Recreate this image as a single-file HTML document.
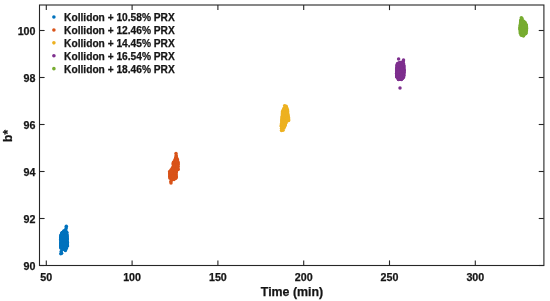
<!DOCTYPE html>
<html><head><meta charset="utf-8"><title>plot</title>
<style>
html,body{margin:0;padding:0;background:#fff;}
svg{display:block;font-family:"Liberation Sans",sans-serif;font-weight:bold}
text{fill:#151515;stroke:#151515;stroke-width:0.25}
</style></head><body>
<svg width="550" height="301" viewBox="0 0 550 301">
<rect width="550" height="301" fill="#fff" stroke="none"/>
<g stroke="#262626" stroke-width="1.1" fill="none">
<rect x="39.5" y="5.0" width="504.4" height="260.5"/>
<line x1="46.3" y1="265.5" x2="46.3" y2="260.4"/><line x1="46.3" y1="5.0" x2="46.3" y2="10.1"/><line x1="132.1" y1="265.5" x2="132.1" y2="260.4"/><line x1="132.1" y1="5.0" x2="132.1" y2="10.1"/><line x1="217.9" y1="265.5" x2="217.9" y2="260.4"/><line x1="217.9" y1="5.0" x2="217.9" y2="10.1"/><line x1="303.7" y1="265.5" x2="303.7" y2="260.4"/><line x1="303.7" y1="5.0" x2="303.7" y2="10.1"/><line x1="389.5" y1="265.5" x2="389.5" y2="260.4"/><line x1="389.5" y1="5.0" x2="389.5" y2="10.1"/><line x1="475.3" y1="265.5" x2="475.3" y2="260.4"/><line x1="475.3" y1="5.0" x2="475.3" y2="10.1"/><line x1="39.5" y1="265.5" x2="44.6" y2="265.5"/><line x1="543.85" y1="265.5" x2="538.75" y2="265.5"/><line x1="39.5" y1="218.5" x2="44.6" y2="218.5"/><line x1="543.85" y1="218.5" x2="538.75" y2="218.5"/><line x1="39.5" y1="171.5" x2="44.6" y2="171.5"/><line x1="543.85" y1="171.5" x2="538.75" y2="171.5"/><line x1="39.5" y1="124.5" x2="44.6" y2="124.5"/><line x1="543.85" y1="124.5" x2="538.75" y2="124.5"/><line x1="39.5" y1="77.5" x2="44.6" y2="77.5"/><line x1="543.85" y1="77.5" x2="538.75" y2="77.5"/><line x1="39.5" y1="30.5" x2="44.6" y2="30.5"/><line x1="543.85" y1="30.5" x2="538.75" y2="30.5"/>
</g>
<g fill="#0072BD"><circle cx="65.6" cy="229.8" r="1.75"/><circle cx="66.9" cy="232.5" r="1.75"/><circle cx="67.0" cy="234.4" r="1.75"/><circle cx="67.1" cy="236.2" r="1.75"/><circle cx="67.2" cy="238.1" r="1.75"/><circle cx="67.3" cy="240.0" r="1.75"/><circle cx="67.4" cy="242.0" r="1.75"/><circle cx="67.4" cy="244.0" r="1.75"/><circle cx="67.5" cy="246.0" r="1.75"/><circle cx="66.3" cy="248.6" r="1.75"/><circle cx="64.5" cy="249.6" r="1.75"/><circle cx="62.4" cy="249.2" r="1.75"/><circle cx="60.8" cy="248.0" r="1.75"/><circle cx="60.8" cy="246.3" r="1.75"/><circle cx="60.8" cy="244.6" r="1.75"/><circle cx="60.8" cy="242.9" r="1.75"/><circle cx="60.7" cy="241.1" r="1.75"/><circle cx="60.7" cy="239.4" r="1.75"/><circle cx="60.7" cy="237.7" r="1.75"/><circle cx="60.7" cy="236.0" r="1.75"/><circle cx="61.4" cy="234.4" r="1.75"/><circle cx="62.1" cy="232.8" r="1.75"/><circle cx="63.8" cy="231.0" r="1.75"/><circle cx="62.9" cy="232.8" r="1.75"/><circle cx="65.1" cy="231.2" r="1.75"/><circle cx="64.3" cy="237.0" r="1.75"/><circle cx="61.1" cy="239.8" r="1.75"/><circle cx="61.0" cy="238.4" r="1.75"/><circle cx="63.6" cy="246.2" r="1.75"/><circle cx="61.5" cy="234.2" r="1.75"/><circle cx="65.0" cy="248.6" r="1.75"/><circle cx="64.6" cy="237.7" r="1.75"/><circle cx="66.5" cy="235.5" r="1.75"/><circle cx="62.8" cy="246.0" r="1.75"/><circle cx="61.9" cy="241.3" r="1.75"/><circle cx="65.0" cy="237.2" r="1.75"/><circle cx="64.4" cy="231.0" r="1.75"/><circle cx="65.3" cy="238.3" r="1.75"/><circle cx="62.8" cy="241.4" r="1.75"/><circle cx="63.8" cy="235.7" r="1.75"/><circle cx="66.1" cy="243.6" r="1.75"/><circle cx="62.4" cy="241.2" r="1.75"/><circle cx="64.3" cy="247.1" r="1.75"/><circle cx="65.7" cy="235.5" r="1.75"/><circle cx="63.5" cy="244.8" r="1.75"/><circle cx="61.7" cy="239.5" r="1.75"/><circle cx="61.0" cy="243.0" r="1.75"/><circle cx="65.9" cy="241.1" r="1.75"/><circle cx="66.7" cy="236.0" r="1.75"/><circle cx="65.4" cy="241.6" r="1.75"/><circle cx="64.6" cy="238.8" r="1.75"/><circle cx="63.9" cy="243.0" r="1.75"/><circle cx="61.1" cy="243.7" r="1.75"/><circle cx="66.3" cy="235.4" r="1.75"/><circle cx="63.3" cy="243.0" r="1.75"/><circle cx="60.9" cy="238.9" r="1.75"/><circle cx="61.1" cy="245.0" r="1.75"/><circle cx="61.6" cy="234.7" r="1.75"/><circle cx="63.4" cy="247.1" r="1.75"/><circle cx="61.2" cy="238.7" r="1.75"/><circle cx="64.4" cy="247.3" r="1.75"/><circle cx="66.3" cy="246.9" r="1.75"/><circle cx="62.6" cy="238.0" r="1.75"/><circle cx="63.1" cy="247.3" r="1.75"/><circle cx="61.9" cy="234.4" r="1.75"/><circle cx="62.3" cy="239.4" r="1.75"/><circle cx="64.7" cy="235.0" r="1.75"/><circle cx="60.7" cy="238.1" r="1.75"/><circle cx="63.2" cy="241.0" r="1.75"/><circle cx="67.2" cy="243.5" r="1.75"/><circle cx="64.2" cy="242.0" r="1.75"/><circle cx="65.3" cy="230.9" r="1.75"/><circle cx="66.8" cy="245.2" r="1.75"/><circle cx="66.6" cy="245.6" r="1.75"/><circle cx="63.4" cy="237.7" r="1.75"/><circle cx="61.4" cy="242.4" r="1.75"/><circle cx="62.1" cy="233.0" r="1.75"/><circle cx="61.4" cy="237.0" r="1.75"/><circle cx="60.9" cy="247.1" r="1.75"/><circle cx="64.9" cy="232.7" r="1.75"/><circle cx="62.4" cy="236.7" r="1.75"/><circle cx="63.2" cy="232.2" r="1.75"/><circle cx="63.9" cy="239.4" r="1.75"/><circle cx="63.0" cy="235.0" r="1.75"/><circle cx="66.3" cy="233.0" r="1.75"/><circle cx="64.3" cy="232.7" r="1.75"/><circle cx="64.3" cy="249.2" r="1.75"/><circle cx="66.6" cy="243.6" r="1.75"/><circle cx="62.5" cy="237.1" r="1.75"/><circle cx="61.8" cy="245.1" r="1.75"/><circle cx="64.3" cy="245.2" r="1.75"/><circle cx="62.9" cy="234.2" r="1.75"/><circle cx="66.5" cy="245.8" r="1.75"/><circle cx="66.3" cy="244.4" r="1.75"/><circle cx="62.2" cy="240.0" r="1.75"/><circle cx="62.5" cy="243.5" r="1.75"/><circle cx="67.2" cy="238.7" r="1.75"/><circle cx="62.2" cy="234.3" r="1.75"/><circle cx="62.0" cy="233.8" r="1.75"/><circle cx="64.9" cy="247.6" r="1.75"/><circle cx="66.4" cy="239.3" r="1.75"/><circle cx="65.1" cy="245.6" r="1.75"/><circle cx="61.3" cy="242.9" r="1.75"/><circle cx="66.9" cy="245.3" r="1.75"/><circle cx="65.8" cy="239.3" r="1.75"/><circle cx="61.9" cy="245.4" r="1.75"/><circle cx="63.0" cy="245.7" r="1.75"/><circle cx="63.4" cy="248.5" r="1.75"/><circle cx="65.6" cy="233.2" r="1.75"/><circle cx="66.9" cy="245.8" r="1.75"/><circle cx="61.7" cy="246.2" r="1.75"/><circle cx="67.4" cy="242.8" r="1.75"/><circle cx="63.1" cy="240.7" r="1.75"/><circle cx="67.3" cy="242.7" r="1.75"/><circle cx="64.3" cy="248.3" r="1.75"/><circle cx="63.6" cy="247.1" r="1.75"/><circle cx="66.3" cy="234.0" r="1.75"/><circle cx="62.4" cy="235.6" r="1.75"/><circle cx="62.3" cy="241.4" r="1.75"/><circle cx="62.5" cy="238.1" r="1.75"/><circle cx="61.6" cy="247.8" r="1.75"/><circle cx="63.1" cy="238.9" r="1.75"/><circle cx="64.7" cy="247.7" r="1.75"/><circle cx="63.6" cy="248.0" r="1.75"/><circle cx="64.1" cy="240.3" r="1.75"/><circle cx="63.7" cy="233.4" r="1.75"/><circle cx="61.9" cy="239.2" r="1.75"/><circle cx="65.6" cy="240.8" r="1.75"/><circle cx="62.9" cy="240.1" r="1.75"/><circle cx="64.5" cy="245.3" r="1.75"/><circle cx="61.4" cy="240.9" r="1.75"/><circle cx="62.4" cy="235.3" r="1.75"/><circle cx="66.0" cy="239.9" r="1.75"/><circle cx="64.5" cy="244.8" r="1.75"/><circle cx="66.9" cy="238.6" r="1.75"/><circle cx="64.9" cy="239.8" r="1.75"/><circle cx="64.2" cy="243.5" r="1.75"/><circle cx="63.8" cy="240.4" r="1.75"/><circle cx="64.0" cy="248.4" r="1.75"/><circle cx="65.5" cy="247.2" r="1.75"/><circle cx="64.5" cy="248.5" r="1.75"/><circle cx="66.4" cy="232.5" r="1.75"/><circle cx="61.5" cy="238.6" r="1.75"/><circle cx="61.2" cy="243.1" r="1.75"/><circle cx="66.0" cy="247.6" r="1.75"/><circle cx="61.8" cy="244.0" r="1.75"/><circle cx="65.2" cy="232.6" r="1.75"/><circle cx="62.2" cy="248.7" r="1.75"/><circle cx="63.4" cy="239.4" r="1.75"/><circle cx="61.8" cy="238.3" r="1.75"/><circle cx="64.2" cy="236.5" r="1.75"/><circle cx="62.0" cy="236.1" r="1.75"/><circle cx="65.6" cy="230.2" r="1.75"/><circle cx="64.5" cy="238.5" r="1.75"/><circle cx="60.8" cy="236.4" r="1.75"/><circle cx="64.9" cy="239.9" r="1.75"/><circle cx="61.4" cy="235.1" r="1.75"/><circle cx="61.0" cy="245.2" r="1.75"/><circle cx="62.5" cy="232.4" r="1.75"/><circle cx="63.6" cy="247.8" r="1.75"/><circle cx="66.3" cy="234.9" r="1.75"/><circle cx="61.7" cy="248.0" r="1.75"/><circle cx="64.6" cy="243.7" r="1.75"/><circle cx="65.4" cy="238.2" r="1.75"/><circle cx="65.0" cy="245.7" r="1.75"/><circle cx="61.3" cy="246.8" r="1.75"/><circle cx="61.2" cy="246.9" r="1.75"/><circle cx="63.8" cy="236.5" r="1.75"/><circle cx="64.5" cy="248.1" r="1.75"/><circle cx="62.5" cy="232.4" r="1.75"/><circle cx="66.3" cy="226.2" r="1.75"/><circle cx="66.2" cy="228.0" r="1.75"/><circle cx="61.2" cy="251.5" r="1.75"/><circle cx="60.8" cy="253.7" r="1.75"/><circle cx="61.6" cy="253.2" r="1.75"/><circle cx="65.4" cy="250.4" r="1.75"/></g><g fill="#D95319"><circle cx="176.3" cy="157.0" r="1.75"/><circle cx="176.9" cy="158.5" r="1.75"/><circle cx="177.5" cy="160.0" r="1.75"/><circle cx="178.0" cy="163.0" r="1.75"/><circle cx="178.0" cy="164.6" r="1.75"/><circle cx="178.0" cy="166.2" r="1.75"/><circle cx="178.0" cy="167.9" r="1.75"/><circle cx="178.0" cy="169.5" r="1.75"/><circle cx="176.2" cy="171.0" r="1.75"/><circle cx="176.1" cy="172.8" r="1.75"/><circle cx="176.1" cy="174.5" r="1.75"/><circle cx="176.0" cy="176.2" r="1.75"/><circle cx="175.9" cy="178.0" r="1.75"/><circle cx="174.0" cy="179.5" r="1.75"/><circle cx="171.5" cy="180.0" r="1.75"/><circle cx="169.8" cy="178.0" r="1.75"/><circle cx="169.8" cy="176.4" r="1.75"/><circle cx="169.8" cy="174.8" r="1.75"/><circle cx="169.7" cy="173.1" r="1.75"/><circle cx="169.7" cy="171.5" r="1.75"/><circle cx="171.0" cy="170.0" r="1.75"/><circle cx="172.1" cy="168.5" r="1.75"/><circle cx="173.2" cy="167.0" r="1.75"/><circle cx="173.3" cy="164.8" r="1.75"/><circle cx="173.4" cy="162.5" r="1.75"/><circle cx="175.0" cy="160.0" r="1.75"/><circle cx="175.7" cy="158.5" r="1.75"/><circle cx="174.1" cy="162.5" r="1.75"/><circle cx="176.0" cy="163.7" r="1.75"/><circle cx="175.8" cy="169.7" r="1.75"/><circle cx="176.5" cy="166.9" r="1.75"/><circle cx="173.8" cy="176.2" r="1.75"/><circle cx="173.0" cy="168.7" r="1.75"/><circle cx="172.5" cy="176.1" r="1.75"/><circle cx="175.6" cy="171.6" r="1.75"/><circle cx="170.3" cy="174.0" r="1.75"/><circle cx="170.4" cy="176.3" r="1.75"/><circle cx="171.9" cy="179.1" r="1.75"/><circle cx="177.8" cy="169.6" r="1.75"/><circle cx="171.7" cy="179.2" r="1.75"/><circle cx="173.6" cy="168.6" r="1.75"/><circle cx="174.6" cy="169.2" r="1.75"/><circle cx="175.9" cy="172.1" r="1.75"/><circle cx="175.6" cy="177.2" r="1.75"/><circle cx="175.7" cy="171.8" r="1.75"/><circle cx="170.1" cy="176.2" r="1.75"/><circle cx="175.8" cy="175.7" r="1.75"/><circle cx="173.9" cy="176.2" r="1.75"/><circle cx="174.5" cy="177.5" r="1.75"/><circle cx="175.4" cy="172.9" r="1.75"/><circle cx="170.6" cy="176.2" r="1.75"/><circle cx="174.3" cy="171.4" r="1.75"/><circle cx="174.9" cy="172.7" r="1.75"/><circle cx="173.9" cy="169.3" r="1.75"/><circle cx="175.8" cy="162.8" r="1.75"/><circle cx="175.8" cy="161.7" r="1.75"/><circle cx="173.8" cy="165.8" r="1.75"/><circle cx="173.7" cy="172.7" r="1.75"/><circle cx="176.1" cy="171.2" r="1.75"/><circle cx="175.9" cy="164.0" r="1.75"/><circle cx="175.3" cy="172.9" r="1.75"/><circle cx="175.3" cy="163.7" r="1.75"/><circle cx="174.0" cy="167.7" r="1.75"/><circle cx="177.1" cy="161.6" r="1.75"/><circle cx="173.4" cy="163.2" r="1.75"/><circle cx="171.4" cy="178.7" r="1.75"/><circle cx="171.4" cy="170.4" r="1.75"/><circle cx="176.5" cy="168.7" r="1.75"/><circle cx="171.6" cy="177.6" r="1.75"/><circle cx="173.4" cy="163.9" r="1.75"/><circle cx="172.3" cy="176.3" r="1.75"/><circle cx="176.7" cy="159.8" r="1.75"/><circle cx="177.2" cy="163.7" r="1.75"/><circle cx="170.5" cy="176.2" r="1.75"/><circle cx="172.1" cy="178.5" r="1.75"/><circle cx="172.8" cy="179.0" r="1.75"/><circle cx="174.9" cy="178.0" r="1.75"/><circle cx="177.5" cy="169.6" r="1.75"/><circle cx="175.8" cy="167.4" r="1.75"/><circle cx="175.9" cy="171.8" r="1.75"/><circle cx="177.4" cy="159.9" r="1.75"/><circle cx="173.6" cy="164.9" r="1.75"/><circle cx="172.2" cy="174.0" r="1.75"/><circle cx="177.8" cy="163.0" r="1.75"/><circle cx="175.1" cy="163.9" r="1.75"/><circle cx="174.3" cy="166.1" r="1.75"/><circle cx="171.4" cy="177.8" r="1.75"/><circle cx="173.8" cy="162.1" r="1.75"/><circle cx="174.4" cy="177.4" r="1.75"/><circle cx="175.9" cy="166.5" r="1.75"/><circle cx="173.1" cy="169.1" r="1.75"/><circle cx="173.9" cy="171.5" r="1.75"/><circle cx="176.9" cy="162.0" r="1.75"/><circle cx="173.0" cy="167.3" r="1.75"/><circle cx="170.0" cy="173.3" r="1.75"/><circle cx="177.1" cy="167.9" r="1.75"/><circle cx="172.9" cy="178.3" r="1.75"/><circle cx="177.8" cy="162.7" r="1.75"/><circle cx="174.0" cy="172.7" r="1.75"/><circle cx="175.1" cy="174.6" r="1.75"/><circle cx="173.5" cy="169.7" r="1.75"/><circle cx="170.0" cy="175.0" r="1.75"/><circle cx="171.6" cy="178.2" r="1.75"/><circle cx="175.1" cy="164.0" r="1.75"/><circle cx="175.0" cy="173.1" r="1.75"/><circle cx="174.1" cy="170.4" r="1.75"/><circle cx="177.0" cy="167.9" r="1.75"/><circle cx="173.8" cy="172.5" r="1.75"/><circle cx="175.2" cy="178.3" r="1.75"/><circle cx="175.4" cy="161.6" r="1.75"/><circle cx="177.7" cy="164.2" r="1.75"/><circle cx="176.5" cy="162.3" r="1.75"/><circle cx="171.5" cy="174.5" r="1.75"/><circle cx="172.1" cy="178.9" r="1.75"/><circle cx="171.5" cy="179.4" r="1.75"/><circle cx="177.4" cy="164.6" r="1.75"/><circle cx="171.2" cy="178.5" r="1.75"/><circle cx="175.2" cy="165.7" r="1.75"/><circle cx="177.7" cy="161.8" r="1.75"/><circle cx="172.7" cy="175.9" r="1.75"/><circle cx="176.5" cy="166.9" r="1.75"/><circle cx="172.8" cy="178.1" r="1.75"/><circle cx="173.1" cy="175.7" r="1.75"/><circle cx="176.1" cy="157.9" r="1.75"/><circle cx="177.3" cy="162.9" r="1.75"/><circle cx="175.9" cy="177.7" r="1.75"/><circle cx="171.9" cy="173.5" r="1.75"/><circle cx="173.3" cy="168.3" r="1.75"/><circle cx="177.4" cy="161.2" r="1.75"/><circle cx="174.7" cy="164.5" r="1.75"/><circle cx="176.2" cy="158.8" r="1.75"/><circle cx="171.3" cy="174.3" r="1.75"/><circle cx="172.4" cy="179.5" r="1.75"/><circle cx="175.6" cy="167.3" r="1.75"/><circle cx="174.8" cy="172.5" r="1.75"/><circle cx="175.9" cy="176.5" r="1.75"/><circle cx="175.2" cy="159.8" r="1.75"/><circle cx="176.7" cy="163.8" r="1.75"/><circle cx="174.4" cy="165.6" r="1.75"/><circle cx="175.8" cy="161.6" r="1.75"/><circle cx="171.0" cy="177.3" r="1.75"/><circle cx="174.5" cy="164.5" r="1.75"/><circle cx="173.9" cy="162.3" r="1.75"/><circle cx="173.6" cy="175.8" r="1.75"/><circle cx="177.4" cy="165.6" r="1.75"/><circle cx="176.9" cy="167.3" r="1.75"/><circle cx="171.9" cy="174.9" r="1.75"/><circle cx="174.6" cy="171.3" r="1.75"/><circle cx="171.8" cy="170.8" r="1.75"/><circle cx="175.1" cy="161.7" r="1.75"/><circle cx="175.3" cy="161.3" r="1.75"/><circle cx="176.3" cy="169.6" r="1.75"/><circle cx="173.0" cy="169.7" r="1.75"/><circle cx="171.1" cy="173.0" r="1.75"/><circle cx="172.3" cy="178.9" r="1.75"/><circle cx="172.3" cy="170.0" r="1.75"/><circle cx="175.7" cy="161.7" r="1.75"/><circle cx="173.2" cy="175.9" r="1.75"/><circle cx="173.1" cy="177.3" r="1.75"/><circle cx="175.0" cy="177.9" r="1.75"/><circle cx="170.4" cy="171.3" r="1.75"/><circle cx="172.8" cy="168.6" r="1.75"/><circle cx="174.0" cy="178.3" r="1.75"/><circle cx="177.4" cy="165.9" r="1.75"/><circle cx="176.5" cy="160.7" r="1.75"/><circle cx="176.2" cy="162.1" r="1.75"/><circle cx="173.1" cy="176.5" r="1.75"/><circle cx="176.6" cy="161.2" r="1.75"/><circle cx="174.0" cy="165.8" r="1.75"/><circle cx="175.7" cy="177.6" r="1.75"/><circle cx="176.0" cy="153.6" r="1.75"/><circle cx="176.2" cy="155.5" r="1.75"/><circle cx="176.0" cy="157.3" r="1.75"/><circle cx="170.8" cy="181.5" r="1.75"/><circle cx="171.0" cy="183.0" r="1.75"/></g><g fill="#EDB120"><circle cx="284.0" cy="108.5" r="1.75"/><circle cx="286.5" cy="107.5" r="1.75"/><circle cx="287.5" cy="110.0" r="1.75"/><circle cx="287.6" cy="112.0" r="1.75"/><circle cx="287.8" cy="114.0" r="1.75"/><circle cx="288.2" cy="116.0" r="1.75"/><circle cx="288.6" cy="118.0" r="1.75"/><circle cx="288.6" cy="120.5" r="1.75"/><circle cx="286.0" cy="121.5" r="1.75"/><circle cx="285.6" cy="123.2" r="1.75"/><circle cx="285.3" cy="125.0" r="1.75"/><circle cx="284.6" cy="126.5" r="1.75"/><circle cx="284.0" cy="128.0" r="1.75"/><circle cx="281.5" cy="128.5" r="1.75"/><circle cx="281.4" cy="126.2" r="1.75"/><circle cx="281.4" cy="124.0" r="1.75"/><circle cx="281.7" cy="122.0" r="1.75"/><circle cx="281.9" cy="120.0" r="1.75"/><circle cx="282.2" cy="118.0" r="1.75"/><circle cx="282.3" cy="116.0" r="1.75"/><circle cx="282.3" cy="114.0" r="1.75"/><circle cx="282.4" cy="112.0" r="1.75"/><circle cx="283.2" cy="110.2" r="1.75"/><circle cx="287.4" cy="110.0" r="1.75"/><circle cx="285.7" cy="119.1" r="1.75"/><circle cx="285.9" cy="113.9" r="1.75"/><circle cx="284.4" cy="119.7" r="1.75"/><circle cx="284.5" cy="121.3" r="1.75"/><circle cx="284.6" cy="116.7" r="1.75"/><circle cx="284.9" cy="112.4" r="1.75"/><circle cx="284.7" cy="111.3" r="1.75"/><circle cx="284.8" cy="109.7" r="1.75"/><circle cx="282.3" cy="116.5" r="1.75"/><circle cx="285.1" cy="108.4" r="1.75"/><circle cx="286.0" cy="109.2" r="1.75"/><circle cx="285.1" cy="108.6" r="1.75"/><circle cx="285.0" cy="115.4" r="1.75"/><circle cx="282.8" cy="128.1" r="1.75"/><circle cx="286.8" cy="110.8" r="1.75"/><circle cx="287.3" cy="110.5" r="1.75"/><circle cx="282.9" cy="113.0" r="1.75"/><circle cx="285.0" cy="114.2" r="1.75"/><circle cx="282.6" cy="127.2" r="1.75"/><circle cx="282.6" cy="124.0" r="1.75"/><circle cx="282.2" cy="118.6" r="1.75"/><circle cx="286.0" cy="115.1" r="1.75"/><circle cx="287.7" cy="119.2" r="1.75"/><circle cx="282.2" cy="128.4" r="1.75"/><circle cx="285.9" cy="115.8" r="1.75"/><circle cx="287.1" cy="113.1" r="1.75"/><circle cx="288.5" cy="119.6" r="1.75"/><circle cx="284.0" cy="123.6" r="1.75"/><circle cx="284.6" cy="111.2" r="1.75"/><circle cx="286.8" cy="108.5" r="1.75"/><circle cx="287.3" cy="112.8" r="1.75"/><circle cx="285.6" cy="121.4" r="1.75"/><circle cx="285.8" cy="116.6" r="1.75"/><circle cx="286.1" cy="108.0" r="1.75"/><circle cx="283.0" cy="119.8" r="1.75"/><circle cx="285.6" cy="111.8" r="1.75"/><circle cx="285.9" cy="117.5" r="1.75"/><circle cx="282.4" cy="127.2" r="1.75"/><circle cx="283.2" cy="110.6" r="1.75"/><circle cx="282.1" cy="120.9" r="1.75"/><circle cx="284.3" cy="113.0" r="1.75"/><circle cx="285.4" cy="114.9" r="1.75"/><circle cx="286.0" cy="116.8" r="1.75"/><circle cx="283.2" cy="126.5" r="1.75"/><circle cx="284.3" cy="112.5" r="1.75"/><circle cx="281.8" cy="123.9" r="1.75"/><circle cx="282.8" cy="120.3" r="1.75"/><circle cx="285.1" cy="121.0" r="1.75"/><circle cx="287.3" cy="111.2" r="1.75"/><circle cx="283.6" cy="113.8" r="1.75"/><circle cx="281.7" cy="126.2" r="1.75"/><circle cx="281.4" cy="125.2" r="1.75"/><circle cx="286.8" cy="117.3" r="1.75"/><circle cx="286.7" cy="117.0" r="1.75"/><circle cx="283.8" cy="123.2" r="1.75"/><circle cx="286.5" cy="113.1" r="1.75"/><circle cx="285.4" cy="116.7" r="1.75"/><circle cx="287.1" cy="118.5" r="1.75"/><circle cx="283.3" cy="121.0" r="1.75"/><circle cx="283.3" cy="112.5" r="1.75"/><circle cx="286.8" cy="114.4" r="1.75"/><circle cx="287.7" cy="114.4" r="1.75"/><circle cx="283.1" cy="126.6" r="1.75"/><circle cx="284.8" cy="125.1" r="1.75"/><circle cx="284.5" cy="122.7" r="1.75"/><circle cx="285.5" cy="114.0" r="1.75"/><circle cx="282.9" cy="120.6" r="1.75"/><circle cx="282.0" cy="126.6" r="1.75"/><circle cx="282.2" cy="127.0" r="1.75"/><circle cx="283.9" cy="110.5" r="1.75"/><circle cx="286.4" cy="120.8" r="1.75"/><circle cx="284.0" cy="124.7" r="1.75"/><circle cx="281.9" cy="125.7" r="1.75"/><circle cx="285.9" cy="113.5" r="1.75"/><circle cx="286.9" cy="111.8" r="1.75"/><circle cx="283.7" cy="116.4" r="1.75"/><circle cx="283.4" cy="122.5" r="1.75"/><circle cx="284.0" cy="114.2" r="1.75"/><circle cx="288.3" cy="118.1" r="1.75"/><circle cx="287.5" cy="120.5" r="1.75"/><circle cx="284.5" cy="123.7" r="1.75"/><circle cx="283.9" cy="122.3" r="1.75"/><circle cx="285.3" cy="112.0" r="1.75"/><circle cx="287.3" cy="111.1" r="1.75"/><circle cx="284.9" cy="124.2" r="1.75"/><circle cx="282.7" cy="117.9" r="1.75"/><circle cx="283.9" cy="125.0" r="1.75"/><circle cx="283.3" cy="127.3" r="1.75"/><circle cx="283.4" cy="112.0" r="1.75"/><circle cx="286.4" cy="118.0" r="1.75"/><circle cx="282.2" cy="120.9" r="1.75"/><circle cx="282.0" cy="124.0" r="1.75"/><circle cx="285.9" cy="115.0" r="1.75"/><circle cx="284.3" cy="115.8" r="1.75"/><circle cx="282.9" cy="113.0" r="1.75"/><circle cx="287.9" cy="118.0" r="1.75"/><circle cx="284.1" cy="126.1" r="1.75"/><circle cx="283.1" cy="117.2" r="1.75"/><circle cx="285.2" cy="123.3" r="1.75"/><circle cx="286.8" cy="121.1" r="1.75"/><circle cx="283.9" cy="114.4" r="1.75"/><circle cx="282.5" cy="125.2" r="1.75"/><circle cx="282.6" cy="116.7" r="1.75"/><circle cx="287.0" cy="119.7" r="1.75"/><circle cx="282.3" cy="117.2" r="1.75"/><circle cx="282.8" cy="113.8" r="1.75"/><circle cx="283.2" cy="114.4" r="1.75"/><circle cx="285.2" cy="110.9" r="1.75"/><circle cx="283.8" cy="111.5" r="1.75"/><circle cx="282.1" cy="127.7" r="1.75"/><circle cx="286.7" cy="116.6" r="1.75"/><circle cx="282.8" cy="120.9" r="1.75"/><circle cx="284.3" cy="124.1" r="1.75"/><circle cx="286.4" cy="118.0" r="1.75"/><circle cx="286.0" cy="117.2" r="1.75"/><circle cx="282.4" cy="120.2" r="1.75"/><circle cx="284.3" cy="123.1" r="1.75"/><circle cx="287.9" cy="116.5" r="1.75"/><circle cx="285.5" cy="123.2" r="1.75"/><circle cx="284.4" cy="112.3" r="1.75"/><circle cx="286.0" cy="117.0" r="1.75"/><circle cx="283.7" cy="120.7" r="1.75"/><circle cx="285.9" cy="112.8" r="1.75"/><circle cx="284.4" cy="117.1" r="1.75"/><circle cx="285.9" cy="116.1" r="1.75"/><circle cx="282.7" cy="121.2" r="1.75"/><circle cx="287.0" cy="115.7" r="1.75"/><circle cx="282.6" cy="123.9" r="1.75"/><circle cx="288.2" cy="118.4" r="1.75"/><circle cx="282.1" cy="119.6" r="1.75"/><circle cx="285.3" cy="122.6" r="1.75"/><circle cx="285.1" cy="120.9" r="1.75"/><circle cx="287.4" cy="118.5" r="1.75"/><circle cx="282.9" cy="121.9" r="1.75"/><circle cx="284.2" cy="123.5" r="1.75"/><circle cx="282.3" cy="128.2" r="1.75"/><circle cx="284.0" cy="108.7" r="1.75"/><circle cx="283.4" cy="115.9" r="1.75"/><circle cx="284.4" cy="122.2" r="1.75"/><circle cx="283.9" cy="113.1" r="1.75"/><circle cx="283.0" cy="123.1" r="1.75"/><circle cx="288.2" cy="118.6" r="1.75"/><circle cx="283.0" cy="124.3" r="1.75"/><circle cx="284.2" cy="112.0" r="1.75"/><circle cx="282.3" cy="123.8" r="1.75"/><circle cx="287.2" cy="120.8" r="1.75"/><circle cx="284.6" cy="105.8" r="1.75"/><circle cx="286.2" cy="106.2" r="1.75"/><circle cx="281.5" cy="130.6" r="1.75"/><circle cx="283.0" cy="130.3" r="1.75"/></g><g fill="#7E2F8E"><circle cx="397.6" cy="63.6" r="1.75"/><circle cx="399.2" cy="62.8" r="1.75"/><circle cx="401.2" cy="62.3" r="1.75"/><circle cx="403.3" cy="61.8" r="1.75"/><circle cx="403.6" cy="63.9" r="1.75"/><circle cx="404.0" cy="66.0" r="1.75"/><circle cx="404.1" cy="68.0" r="1.75"/><circle cx="404.1" cy="70.0" r="1.75"/><circle cx="404.2" cy="72.0" r="1.75"/><circle cx="404.0" cy="73.7" r="1.75"/><circle cx="403.8" cy="75.3" r="1.75"/><circle cx="403.6" cy="77.0" r="1.75"/><circle cx="402.6" cy="78.3" r="1.75"/><circle cx="401.5" cy="79.6" r="1.75"/><circle cx="398.5" cy="79.6" r="1.75"/><circle cx="396.8" cy="77.0" r="1.75"/><circle cx="396.8" cy="75.2" r="1.75"/><circle cx="396.7" cy="73.5" r="1.75"/><circle cx="396.7" cy="71.8" r="1.75"/><circle cx="396.6" cy="70.0" r="1.75"/><circle cx="396.8" cy="67.8" r="1.75"/><circle cx="396.9" cy="65.5" r="1.75"/><circle cx="400.2" cy="71.8" r="1.75"/><circle cx="398.3" cy="79.0" r="1.75"/><circle cx="399.3" cy="73.2" r="1.75"/><circle cx="402.8" cy="76.3" r="1.75"/><circle cx="400.2" cy="67.0" r="1.75"/><circle cx="400.8" cy="64.0" r="1.75"/><circle cx="402.9" cy="68.1" r="1.75"/><circle cx="403.1" cy="66.6" r="1.75"/><circle cx="399.5" cy="66.3" r="1.75"/><circle cx="399.8" cy="65.1" r="1.75"/><circle cx="398.7" cy="66.2" r="1.75"/><circle cx="398.9" cy="70.3" r="1.75"/><circle cx="399.9" cy="73.1" r="1.75"/><circle cx="401.6" cy="68.3" r="1.75"/><circle cx="397.0" cy="76.5" r="1.75"/><circle cx="403.5" cy="75.8" r="1.75"/><circle cx="397.7" cy="76.6" r="1.75"/><circle cx="401.6" cy="66.3" r="1.75"/><circle cx="397.4" cy="64.3" r="1.75"/><circle cx="398.4" cy="75.6" r="1.75"/><circle cx="399.2" cy="64.5" r="1.75"/><circle cx="403.5" cy="75.9" r="1.75"/><circle cx="397.9" cy="77.7" r="1.75"/><circle cx="401.2" cy="75.7" r="1.75"/><circle cx="401.7" cy="77.7" r="1.75"/><circle cx="402.6" cy="76.7" r="1.75"/><circle cx="398.1" cy="74.1" r="1.75"/><circle cx="400.6" cy="75.0" r="1.75"/><circle cx="399.9" cy="77.5" r="1.75"/><circle cx="400.8" cy="66.5" r="1.75"/><circle cx="398.4" cy="64.3" r="1.75"/><circle cx="400.3" cy="62.8" r="1.75"/><circle cx="400.1" cy="64.4" r="1.75"/><circle cx="400.3" cy="70.7" r="1.75"/><circle cx="400.7" cy="77.2" r="1.75"/><circle cx="400.2" cy="71.8" r="1.75"/><circle cx="401.7" cy="76.8" r="1.75"/><circle cx="399.4" cy="69.3" r="1.75"/><circle cx="401.4" cy="73.1" r="1.75"/><circle cx="396.8" cy="72.7" r="1.75"/><circle cx="401.8" cy="78.4" r="1.75"/><circle cx="399.1" cy="79.3" r="1.75"/><circle cx="400.5" cy="70.4" r="1.75"/><circle cx="402.1" cy="72.9" r="1.75"/><circle cx="399.2" cy="77.1" r="1.75"/><circle cx="399.4" cy="70.2" r="1.75"/><circle cx="400.6" cy="75.5" r="1.75"/><circle cx="398.2" cy="69.5" r="1.75"/><circle cx="399.8" cy="71.7" r="1.75"/><circle cx="402.9" cy="67.0" r="1.75"/><circle cx="402.9" cy="69.0" r="1.75"/><circle cx="400.4" cy="66.6" r="1.75"/><circle cx="400.4" cy="79.2" r="1.75"/><circle cx="401.6" cy="75.9" r="1.75"/><circle cx="399.1" cy="67.4" r="1.75"/><circle cx="398.9" cy="72.2" r="1.75"/><circle cx="401.4" cy="75.8" r="1.75"/><circle cx="396.9" cy="74.7" r="1.75"/><circle cx="403.3" cy="71.5" r="1.75"/><circle cx="397.0" cy="67.1" r="1.75"/><circle cx="403.6" cy="72.6" r="1.75"/><circle cx="401.6" cy="75.8" r="1.75"/><circle cx="403.5" cy="72.7" r="1.75"/><circle cx="401.3" cy="73.0" r="1.75"/><circle cx="401.9" cy="72.4" r="1.75"/><circle cx="401.8" cy="65.6" r="1.75"/><circle cx="401.7" cy="70.0" r="1.75"/><circle cx="402.4" cy="63.6" r="1.75"/><circle cx="402.5" cy="78.1" r="1.75"/><circle cx="401.6" cy="68.4" r="1.75"/><circle cx="402.9" cy="75.8" r="1.75"/><circle cx="400.9" cy="66.4" r="1.75"/><circle cx="398.9" cy="69.3" r="1.75"/><circle cx="399.0" cy="69.5" r="1.75"/><circle cx="401.5" cy="78.4" r="1.75"/><circle cx="397.0" cy="71.9" r="1.75"/><circle cx="402.8" cy="72.0" r="1.75"/><circle cx="403.6" cy="69.7" r="1.75"/><circle cx="396.7" cy="68.7" r="1.75"/><circle cx="401.1" cy="78.5" r="1.75"/><circle cx="404.1" cy="70.3" r="1.75"/><circle cx="399.7" cy="63.6" r="1.75"/><circle cx="401.5" cy="65.6" r="1.75"/><circle cx="397.3" cy="77.3" r="1.75"/><circle cx="402.1" cy="66.1" r="1.75"/><circle cx="402.2" cy="65.1" r="1.75"/><circle cx="397.0" cy="75.6" r="1.75"/><circle cx="402.0" cy="77.0" r="1.75"/><circle cx="402.1" cy="63.3" r="1.75"/><circle cx="401.4" cy="74.4" r="1.75"/><circle cx="400.1" cy="78.4" r="1.75"/><circle cx="398.5" cy="79.0" r="1.75"/><circle cx="396.7" cy="73.4" r="1.75"/><circle cx="402.8" cy="63.2" r="1.75"/><circle cx="399.0" cy="74.8" r="1.75"/><circle cx="397.9" cy="77.1" r="1.75"/><circle cx="400.3" cy="62.9" r="1.75"/><circle cx="399.4" cy="72.0" r="1.75"/><circle cx="399.9" cy="73.8" r="1.75"/><circle cx="397.7" cy="76.0" r="1.75"/><circle cx="399.4" cy="73.3" r="1.75"/><circle cx="401.4" cy="69.2" r="1.75"/><circle cx="399.5" cy="75.8" r="1.75"/><circle cx="400.9" cy="67.0" r="1.75"/><circle cx="401.9" cy="76.5" r="1.75"/><circle cx="399.1" cy="72.6" r="1.75"/><circle cx="401.2" cy="67.3" r="1.75"/><circle cx="399.9" cy="77.6" r="1.75"/><circle cx="399.5" cy="74.0" r="1.75"/><circle cx="401.2" cy="77.8" r="1.75"/><circle cx="402.7" cy="66.8" r="1.75"/><circle cx="399.8" cy="72.2" r="1.75"/><circle cx="402.8" cy="77.6" r="1.75"/><circle cx="396.9" cy="76.6" r="1.75"/><circle cx="402.8" cy="77.2" r="1.75"/><circle cx="400.9" cy="66.7" r="1.75"/><circle cx="403.1" cy="76.2" r="1.75"/><circle cx="401.8" cy="78.1" r="1.75"/><circle cx="399.2" cy="63.3" r="1.75"/><circle cx="400.8" cy="76.0" r="1.75"/><circle cx="398.1" cy="75.2" r="1.75"/><circle cx="403.7" cy="66.0" r="1.75"/><circle cx="401.2" cy="73.9" r="1.75"/><circle cx="400.1" cy="65.5" r="1.75"/><circle cx="398.5" cy="75.2" r="1.75"/><circle cx="402.6" cy="70.0" r="1.75"/><circle cx="397.3" cy="76.2" r="1.75"/><circle cx="402.5" cy="65.9" r="1.75"/><circle cx="401.0" cy="77.8" r="1.75"/><circle cx="403.3" cy="71.1" r="1.75"/><circle cx="400.2" cy="72.3" r="1.75"/><circle cx="398.0" cy="65.2" r="1.75"/><circle cx="398.0" cy="74.3" r="1.75"/><circle cx="399.4" cy="71.8" r="1.75"/><circle cx="399.7" cy="71.0" r="1.75"/><circle cx="397.4" cy="73.1" r="1.75"/><circle cx="402.6" cy="64.6" r="1.75"/><circle cx="401.1" cy="67.9" r="1.75"/><circle cx="403.2" cy="70.5" r="1.75"/><circle cx="400.9" cy="66.5" r="1.75"/><circle cx="402.5" cy="69.4" r="1.75"/><circle cx="398.1" cy="65.0" r="1.75"/><circle cx="400.8" cy="77.3" r="1.75"/><circle cx="400.1" cy="78.7" r="1.75"/><circle cx="401.1" cy="68.9" r="1.75"/><circle cx="398.6" cy="71.8" r="1.75"/><circle cx="401.5" cy="78.8" r="1.75"/><circle cx="401.7" cy="68.8" r="1.75"/><circle cx="398.6" cy="59.0" r="1.75"/><circle cx="403.5" cy="60.0" r="1.75"/><circle cx="400.0" cy="88.0" r="1.75"/></g><g fill="#77AC30"><circle cx="521.2" cy="19.4" r="1.75"/><circle cx="522.8" cy="20.8" r="1.75"/><circle cx="524.8" cy="22.3" r="1.75"/><circle cx="526.3" cy="25.0" r="1.75"/><circle cx="526.4" cy="26.7" r="1.75"/><circle cx="526.4" cy="28.3" r="1.75"/><circle cx="526.5" cy="30.0" r="1.75"/><circle cx="526.1" cy="31.8" r="1.75"/><circle cx="525.8" cy="33.6" r="1.75"/><circle cx="523.5" cy="35.7" r="1.75"/><circle cx="521.3" cy="35.2" r="1.75"/><circle cx="520.2" cy="33.0" r="1.75"/><circle cx="520.1" cy="31.0" r="1.75"/><circle cx="520.1" cy="29.0" r="1.75"/><circle cx="520.0" cy="27.0" r="1.75"/><circle cx="520.2" cy="25.0" r="1.75"/><circle cx="520.5" cy="23.0" r="1.75"/><circle cx="520.9" cy="21.2" r="1.75"/><circle cx="522.9" cy="22.0" r="1.75"/><circle cx="521.4" cy="20.0" r="1.75"/><circle cx="521.7" cy="25.1" r="1.75"/><circle cx="525.1" cy="31.0" r="1.75"/><circle cx="524.4" cy="24.3" r="1.75"/><circle cx="523.8" cy="31.8" r="1.75"/><circle cx="520.7" cy="24.7" r="1.75"/><circle cx="521.7" cy="21.4" r="1.75"/><circle cx="523.1" cy="22.1" r="1.75"/><circle cx="521.5" cy="21.7" r="1.75"/><circle cx="524.7" cy="22.6" r="1.75"/><circle cx="521.4" cy="34.6" r="1.75"/><circle cx="520.9" cy="26.7" r="1.75"/><circle cx="525.5" cy="29.6" r="1.75"/><circle cx="522.9" cy="24.9" r="1.75"/><circle cx="525.3" cy="27.2" r="1.75"/><circle cx="521.4" cy="20.3" r="1.75"/><circle cx="524.6" cy="28.4" r="1.75"/><circle cx="520.9" cy="33.6" r="1.75"/><circle cx="521.7" cy="26.1" r="1.75"/><circle cx="521.0" cy="23.8" r="1.75"/><circle cx="525.5" cy="24.9" r="1.75"/><circle cx="521.1" cy="27.4" r="1.75"/><circle cx="522.1" cy="34.1" r="1.75"/><circle cx="524.3" cy="22.8" r="1.75"/><circle cx="523.1" cy="24.1" r="1.75"/><circle cx="521.7" cy="22.7" r="1.75"/><circle cx="520.6" cy="24.1" r="1.75"/><circle cx="524.7" cy="24.2" r="1.75"/><circle cx="525.2" cy="25.0" r="1.75"/><circle cx="525.4" cy="28.0" r="1.75"/><circle cx="521.2" cy="26.5" r="1.75"/><circle cx="523.7" cy="21.7" r="1.75"/><circle cx="521.2" cy="32.0" r="1.75"/><circle cx="524.6" cy="22.6" r="1.75"/><circle cx="524.0" cy="27.5" r="1.75"/><circle cx="521.8" cy="22.8" r="1.75"/><circle cx="524.0" cy="30.9" r="1.75"/><circle cx="525.3" cy="28.9" r="1.75"/><circle cx="521.3" cy="20.5" r="1.75"/><circle cx="524.8" cy="26.1" r="1.75"/><circle cx="525.3" cy="24.9" r="1.75"/><circle cx="525.5" cy="33.5" r="1.75"/><circle cx="525.9" cy="27.2" r="1.75"/><circle cx="521.2" cy="33.0" r="1.75"/><circle cx="522.4" cy="22.1" r="1.75"/><circle cx="522.4" cy="29.1" r="1.75"/><circle cx="520.0" cy="27.9" r="1.75"/><circle cx="522.9" cy="27.8" r="1.75"/><circle cx="520.8" cy="31.0" r="1.75"/><circle cx="525.3" cy="33.5" r="1.75"/><circle cx="522.1" cy="31.0" r="1.75"/><circle cx="522.5" cy="31.6" r="1.75"/><circle cx="526.2" cy="27.5" r="1.75"/><circle cx="523.3" cy="28.0" r="1.75"/><circle cx="521.2" cy="21.1" r="1.75"/><circle cx="521.6" cy="32.7" r="1.75"/><circle cx="524.5" cy="22.6" r="1.75"/><circle cx="520.1" cy="29.2" r="1.75"/><circle cx="523.7" cy="27.9" r="1.75"/><circle cx="525.7" cy="31.1" r="1.75"/><circle cx="523.2" cy="27.6" r="1.75"/><circle cx="521.8" cy="21.4" r="1.75"/><circle cx="522.6" cy="21.6" r="1.75"/><circle cx="523.8" cy="33.4" r="1.75"/><circle cx="521.0" cy="28.7" r="1.75"/><circle cx="522.5" cy="26.3" r="1.75"/><circle cx="525.5" cy="28.0" r="1.75"/><circle cx="522.6" cy="34.7" r="1.75"/><circle cx="525.0" cy="24.9" r="1.75"/><circle cx="521.6" cy="24.9" r="1.75"/><circle cx="522.8" cy="35.4" r="1.75"/><circle cx="525.3" cy="33.2" r="1.75"/><circle cx="520.3" cy="27.8" r="1.75"/><circle cx="521.6" cy="26.3" r="1.75"/><circle cx="524.1" cy="25.3" r="1.75"/><circle cx="522.8" cy="27.6" r="1.75"/><circle cx="526.1" cy="29.7" r="1.75"/><circle cx="525.3" cy="33.8" r="1.75"/><circle cx="524.2" cy="23.7" r="1.75"/><circle cx="524.4" cy="23.9" r="1.75"/><circle cx="523.5" cy="34.5" r="1.75"/><circle cx="524.0" cy="23.5" r="1.75"/><circle cx="523.4" cy="26.5" r="1.75"/><circle cx="522.0" cy="30.0" r="1.75"/><circle cx="520.8" cy="29.1" r="1.75"/><circle cx="526.2" cy="27.8" r="1.75"/><circle cx="521.7" cy="27.0" r="1.75"/><circle cx="523.5" cy="21.8" r="1.75"/><circle cx="520.8" cy="21.5" r="1.75"/><circle cx="521.9" cy="26.0" r="1.75"/><circle cx="521.9" cy="23.4" r="1.75"/><circle cx="520.6" cy="28.3" r="1.75"/><circle cx="525.5" cy="29.3" r="1.75"/><circle cx="523.7" cy="30.0" r="1.75"/><circle cx="521.3" cy="31.0" r="1.75"/><circle cx="523.0" cy="28.3" r="1.75"/><circle cx="524.0" cy="27.0" r="1.75"/><circle cx="522.0" cy="23.3" r="1.75"/><circle cx="521.4" cy="27.8" r="1.75"/><circle cx="522.5" cy="28.9" r="1.75"/><circle cx="523.6" cy="27.4" r="1.75"/><circle cx="521.9" cy="32.0" r="1.75"/><circle cx="521.0" cy="20.5" r="1.75"/><circle cx="525.7" cy="26.6" r="1.75"/><circle cx="520.4" cy="25.7" r="1.75"/><circle cx="522.9" cy="31.4" r="1.75"/><circle cx="520.7" cy="23.1" r="1.75"/><circle cx="521.0" cy="24.9" r="1.75"/><circle cx="522.3" cy="30.4" r="1.75"/><circle cx="524.0" cy="33.3" r="1.75"/><circle cx="525.3" cy="27.8" r="1.75"/><circle cx="524.8" cy="31.5" r="1.75"/><circle cx="524.9" cy="27.1" r="1.75"/><circle cx="525.1" cy="30.9" r="1.75"/><circle cx="525.0" cy="28.9" r="1.75"/><circle cx="523.2" cy="35.1" r="1.75"/><circle cx="523.7" cy="26.2" r="1.75"/><circle cx="525.1" cy="33.6" r="1.75"/><circle cx="523.9" cy="25.6" r="1.75"/><circle cx="522.9" cy="26.9" r="1.75"/><circle cx="524.7" cy="24.2" r="1.75"/><circle cx="522.5" cy="28.5" r="1.75"/><circle cx="522.5" cy="24.6" r="1.75"/><circle cx="525.1" cy="33.2" r="1.75"/><circle cx="523.2" cy="26.6" r="1.75"/><circle cx="521.2" cy="24.4" r="1.75"/><circle cx="520.9" cy="28.8" r="1.75"/><circle cx="526.0" cy="24.7" r="1.75"/><circle cx="525.5" cy="33.1" r="1.75"/><circle cx="522.8" cy="34.2" r="1.75"/><circle cx="523.7" cy="27.5" r="1.75"/><circle cx="526.0" cy="32.0" r="1.75"/><circle cx="523.5" cy="35.7" r="1.75"/><circle cx="523.4" cy="27.8" r="1.75"/><circle cx="524.5" cy="25.7" r="1.75"/><circle cx="522.3" cy="29.1" r="1.75"/><circle cx="522.3" cy="34.9" r="1.75"/><circle cx="524.4" cy="28.0" r="1.75"/><circle cx="520.6" cy="25.5" r="1.75"/><circle cx="522.6" cy="28.5" r="1.75"/><circle cx="523.7" cy="33.7" r="1.75"/><circle cx="526.3" cy="27.3" r="1.75"/><circle cx="522.9" cy="29.6" r="1.75"/><circle cx="523.4" cy="32.7" r="1.75"/><circle cx="521.1" cy="24.6" r="1.75"/><circle cx="523.3" cy="21.2" r="1.75"/><circle cx="525.8" cy="30.6" r="1.75"/><circle cx="525.8" cy="26.3" r="1.75"/><circle cx="521.0" cy="24.1" r="1.75"/><circle cx="523.3" cy="27.6" r="1.75"/><circle cx="521.2" cy="22.4" r="1.75"/><circle cx="521.3" cy="17.8" r="1.75"/><circle cx="522.0" cy="18.6" r="1.75"/></g>
<g font-size="10.7"><text x="46.3" y="280.6" text-anchor="middle">50</text><text x="132.1" y="280.6" text-anchor="middle">100</text><text x="217.9" y="280.6" text-anchor="middle">150</text><text x="303.7" y="280.6" text-anchor="middle">200</text><text x="389.5" y="280.6" text-anchor="middle">250</text><text x="475.3" y="280.6" text-anchor="middle">300</text><text x="35.5" y="269.6" text-anchor="end">90</text><text x="35.5" y="222.6" text-anchor="end">92</text><text x="35.5" y="175.6" text-anchor="end">94</text><text x="35.5" y="128.6" text-anchor="end">96</text><text x="35.5" y="81.6" text-anchor="end">98</text><text x="35.5" y="34.6" text-anchor="end">100</text></g>
<g font-size="10.2"><circle cx="53.9" cy="17.05" r="1.8" fill="#0072BD"/><text x="64.1" y="20.95">Kollidon + 10.58% PRX</text><circle cx="53.9" cy="29.95" r="1.8" fill="#D95319"/><text x="64.1" y="33.85">Kollidon + 12.46% PRX</text><circle cx="53.9" cy="42.85" r="1.8" fill="#EDB120"/><text x="64.1" y="46.75">Kollidon + 14.45% PRX</text><circle cx="53.9" cy="55.75" r="1.8" fill="#7E2F8E"/><text x="64.1" y="59.65">Kollidon + 16.54% PRX</text><circle cx="53.9" cy="68.65" r="1.8" fill="#77AC30"/><text x="64.1" y="72.55">Kollidon + 18.46% PRX</text></g>
<text x="292" y="296" text-anchor="middle" font-size="12.4">Time (min)</text>
<text transform="translate(12.4,135.9) rotate(-90)" text-anchor="middle" font-size="12">b*</text>
</svg>
</body></html>
